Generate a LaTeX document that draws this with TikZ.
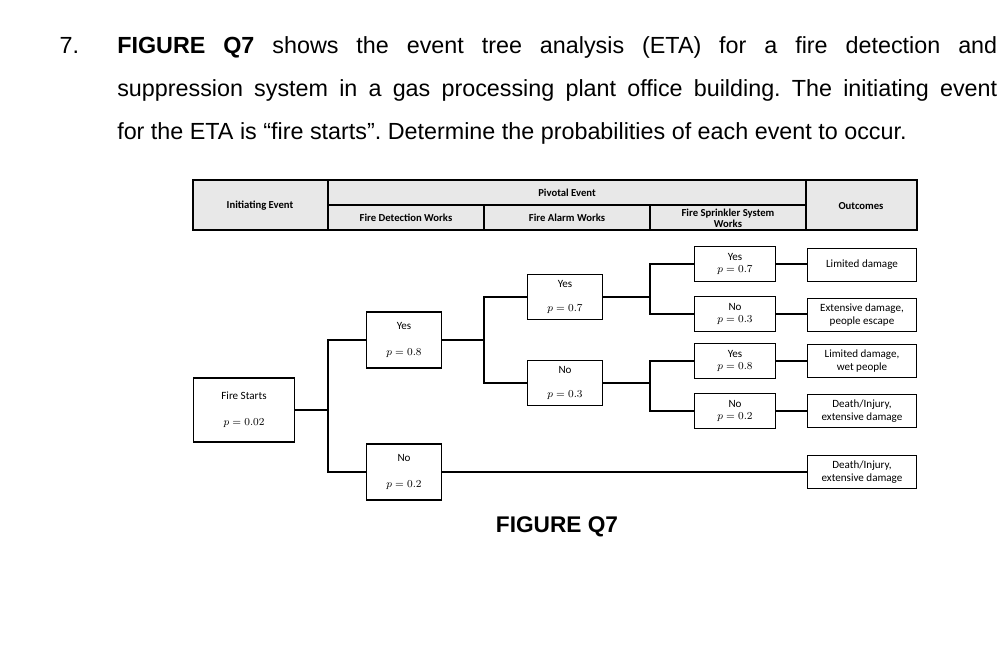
\documentclass[tikz,border=0pt]{standalone}
\usepackage{fontspec}
\setmainfont{Liberation Sans}
\newfontfamily\treefont{Carlito}
\usetikzlibrary{positioning}
\frenchspacing

\begin{document}
\begin{tikzpicture}[x=0.75pt,y=-0.75pt,
	box/.style={draw,thick,fill=white,align=center,font=\treefont\fontsize{8.3}{9.5}\selectfont,inner sep=0pt,minimum width=56pt},
	hd/.style={align=center,font=\treefont\bfseries\fontsize{8}{8.5}\selectfont},
	line/.style={draw,thick},
	trunk/.style={draw,line width=1.1pt},
]
\useasboundingbox (0,0) rectangle (997,668);
% question text
\node[anchor=base west,font=\fontsize{17.5}{20}\selectfont] (num) at (55,53) {7.};
\node[anchor=base west,text width=660pt,align=justify,inner sep=0pt,
      font=\fontsize{17.5}{32.3}\selectfont] (q) at (117,53)
  {\textbf{FIGURE Q7} shows the event tree analysis (ETA) for a fire detection and\linebreak suppression system in a gas processing plant office building. The initiating event\linebreak for the ETA is \textquotedblleft fire starts\textquotedblright. Determine the probabilities of each event to occur.};
\node[font=\bfseries\fontsize{17}{20}\selectfont] (cap) at (557,527) {FIGURE Q7};

% header table
\draw[thick,fill=gray!18] (193,180) rectangle (917,230);
\draw[thick] (328,180) -- (328,230) (806,180) -- (806,230)
  (328,205) -- (806,205) (484,205) -- (484,230) (650,205) -- (650,230);
\node[hd] (hi) at (260,206) {Initiating Event};
\node[hd] (hp) at (567,193) {Pivotal Event};
\node[hd] (hfd) at (406,218) {Fire Detection Works};
\node[hd] (hfa) at (567,218) {Fire Alarm Works};
\node[hd] (hfs) at (728,218) {Fire Sprinkler System\\Works};
\node[hd] (ho) at (861,206) {Outcomes};

% initiating event
\node[box,minimum width=76pt,minimum height=48pt] (fs) at (244,410) {Fire Starts\\[10pt]$p=0.02$};
% fire detection
\node[box,minimum height=42pt] (fdy) at (404,340) {Yes\\[10pt]$p=0.8$};
\node[box,minimum height=42pt] (fdn) at (404,472) {No\\[10pt]$p=0.2$};
% fire alarm
\node[box,minimum height=34pt] (fay) at (565,297) {Yes\\[8pt]$p=0.7$};
\node[box,minimum height=34pt] (fan) at (565,383) {No\\[8pt]$p=0.3$};
% sprinkler
\node[box,minimum width=61pt,minimum height=26pt] (sy1) at (735,264) {Yes\\$p=0.7$};
\node[box,minimum width=61pt,minimum height=26pt] (sn1) at (735,314) {No\\$p=0.3$};
\node[box,minimum width=61pt,minimum height=26pt] (sy2) at (735,361) {Yes\\$p=0.8$};
\node[box,minimum width=61pt,minimum height=26pt] (sn2) at (735,411) {No\\$p=0.2$};
% outcomes
\node[box,minimum width=82pt,minimum height=25pt] (o1) at (862,265) {Limited damage};
\node[box,minimum width=82pt,minimum height=25pt] (o2) at (862,315) {Extensive damage,\\people escape};
\node[box,minimum width=82pt,minimum height=25pt] (o3) at (862,361) {Limited damage,\\wet people};
\node[box,minimum width=82pt,minimum height=25pt] (o4) at (862,411) {Death/Injury,\\extensive damage};
\node[box,minimum width=82pt,minimum height=25pt] (o5) at (862,472) {Death/Injury,\\extensive damage};

% junctions
\coordinate (j1) at (328,410);
\coordinate (j2) at (484,340);
\coordinate (j3) at (650,297);
\coordinate (j4) at (650,383);

\draw[trunk] (fs) -- (j1);
\draw[line] (fdy.west) -| (j1) |- (fdn.west);
\draw[trunk] (fdy) -- (j2);
\draw[line] (fay.west) -| (j2) |- (fan.west);
\draw[trunk] (fay) -- (j3);
\draw[line] (sy1.west) -| (j3) |- (sn1.west);
\draw[trunk] (fan) -- (j4);
\draw[line] (sy2.west) -| (j4) |- (sn2.west);
\draw[line] (sy1) -- (sy1 -| o1.west);
\draw[line] (sn1) -- (sn1 -| o2.west);
\draw[line] (sy2) -- (sy2 -| o3.west);
\draw[line] (sn2) -- (sn2 -| o4.west);
\draw[line] (fdn) -- (fdn -| o5.west);
\end{tikzpicture}
\end{document}
